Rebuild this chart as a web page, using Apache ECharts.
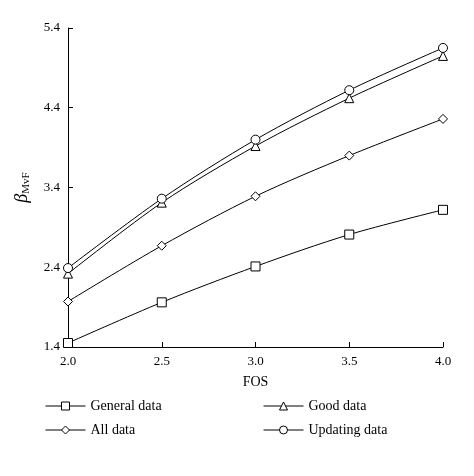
<!DOCTYPE html>
<html>
<head>
<meta charset="utf-8">
<script src="https://cdn.jsdelivr.net/npm/echarts@6/dist/echarts.min.js"></script>
<style>html,body{margin:0;background:#fff}#main{width:474px;height:476px}</style>
</head>
<body>
<div id="main"></div>
<script>
const fos = [2.0, 2.5, 3.0, 3.5, 4.0];
const generalData = [1.45, 1.96, 2.41, 2.81, 3.12];
const allData = [1.97, 2.67, 3.29, 3.80, 4.26];
const goodData = [2.32, 3.21, 3.92, 4.52, 5.05];
const updatingData = [2.39, 3.26, 4.00, 4.62, 5.15];

function pairs(v) { return fos.map((x, i) => [x, v[i]]); }
const font = 'Liberation Serif';
function mk(name, data, symbol) {
    return {
        name: name, type: 'line', data: pairs(data), smooth: 0.3,
        symbol: symbol, symbolSize: 9,
        lineStyle: {color: '#000', width: 1},
        itemStyle: {color: '#fff', borderColor: '#000', borderWidth: 1}
    };
}
const legendBase = {
    orient: 'vertical', top: 394, itemGap: 10, itemWidth: 40, itemHeight: 10,
    lineStyle: {width: 1}, itemStyle: {borderWidth: 1},
    textStyle: {fontFamily: font, fontSize: 14, color: '#000'}
};
const chart = echarts.init(document.getElementById('main'));
chart.setOption({
    animation: false,
    grid: {left: 68, right: 31, top: 28, bottom: 129},
    xAxis: {
        type: 'value', min: 2.0, max: 4.0, interval: 0.5,
        name: 'FOS', nameLocation: 'middle', nameGap: 28,
        nameTextStyle: {fontFamily: font, fontSize: 14, color: '#000'},
        axisLine: {lineStyle: {color: '#000'}},
        axisTick: {inside: true, length: 5, lineStyle: {color: '#000'}},
        axisLabel: {fontFamily: font, fontSize: 13, color: '#000', formatter: v => v.toFixed(1)},
        splitLine: {show: false}
    },
    yAxis: {
        type: 'value', min: 1.4, max: 5.4, interval: 1,
        name: '{b|β}{s|MvF}', nameLocation: 'middle', nameGap: 36,
        nameTextStyle: {rich: {
            b: {fontFamily: font, fontStyle: 'italic', fontSize: 18, color: '#000'},
            s: {fontFamily: font, fontSize: 11, color: '#000', verticalAlign: 'bottom', padding: [8, 0, 0, 0]}
        }},
        axisLine: {show: true, lineStyle: {color: '#000'}},
        axisTick: {inside: true, length: 5, lineStyle: {color: '#000'}},
        axisLabel: {fontFamily: font, fontSize: 13, color: '#000', formatter: v => v.toFixed(1)},
        splitLine: {show: false}
    },
    legend: [
        Object.assign({data: ['General data', 'All data'], left: 40}, legendBase),
        Object.assign({data: ['Good data', 'Updating data'], left: 258}, legendBase)
    ],
    series: [
        mk('General data', generalData, 'rect'),
        mk('All data', allData, 'diamond'),
        mk('Good data', goodData, 'triangle'),
        mk('Updating data', updatingData, 'circle')
    ]
});
</script>
</body>
</html>
